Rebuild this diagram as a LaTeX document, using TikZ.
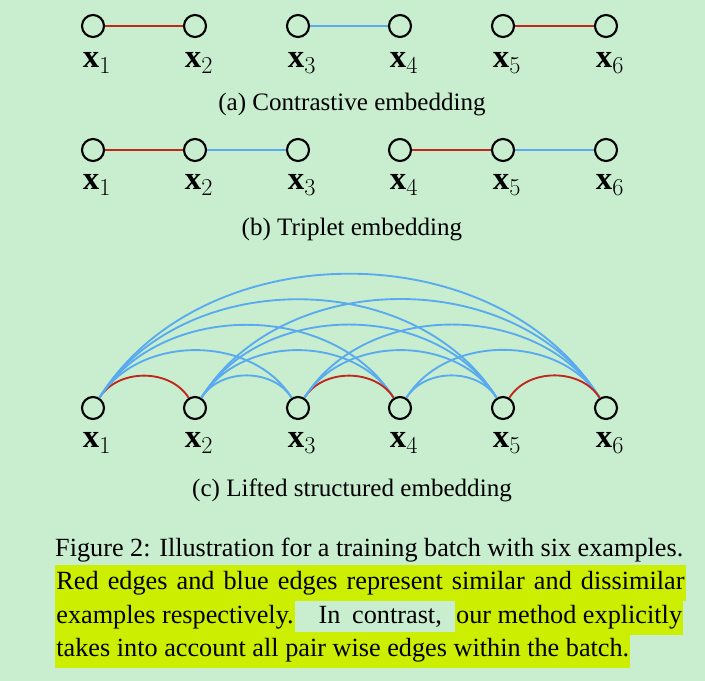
\documentclass[tikz,border=0pt]{standalone}
\usepackage{fontspec}
\setmainfont{Liberation Serif}
\usetikzlibrary{backgrounds}
\definecolor{bgcol}{HTML}{C8EECF}
\definecolor{simred}{HTML}{C0281E}
\definecolor{disblue}{HTML}{5AAAF0}
\definecolor{hlcol}{HTML}{CCEE00}
\tikzset{n/.style={circle, draw=black, line width=1.8pt, minimum size=0.66cm, inner sep=0},
  lab/.style={font=\fontsize{28}{32}\selectfont},
  subcap/.style={font=\fontsize{21.4}{26}\selectfont},
  txt/.style={font=\fontsize{22.4}{28}\selectfont, inner sep=0, anchor=west}}
\newcommand{\hlbox}[1]{{\setlength{\fboxsep}{1pt}\colorbox{hlcol}{\strut #1}}}
\newcommand{\capw}{18.84cm}

\begin{document}
\begin{tikzpicture}[x=0.03cm, y=-0.03cm]
    \fill[bgcol] (0,0) rectangle (705,681);
    \useasboundingbox (0,0) rectangle (705,681);
    \def\xs{{93,195,298,400,503,606}}
    % row (a) and row (b)
    \foreach \i in {1,...,6}
    {
      \pgfmathparse{\xs[\i-1]}
      \edef\v{\pgfmathresult}
      \node[n](A\i) at (\v, 26) {};
      \node[lab] at (\v+4, 63) {$\mathbf{x}_{\i}$};
      \node[n](B\i) at (\v, 150) {};
      \node[lab] at (\v+4, 185) {$\mathbf{x}_{\i}$};
      \node[n](C\i) at (\v, 408) {};
      \node[lab] at (\v+4, 443) {$\mathbf{x}_{\i}$};
    }
    \draw[simred, line width=1.6pt] (A1) -- (A2);
    \draw[disblue, line width=1.6pt] (A3) -- (A4);
    \draw[simred, line width=1.6pt] (A5) -- (A6);
    \draw[simred, line width=1.6pt] (B1) -- (B2);
    \draw[disblue, line width=1.6pt] (B2) -- (B3);
    \draw[simred, line width=1.6pt] (B4) -- (B5);
    \draw[disblue, line width=1.6pt] (B5) -- (B6);
    \node[subcap] (capa) at (352, 105) {(a) Contrastive embedding};
    \node[subcap] (capb) at (352, 230) {(b) Triplet embedding};
    % row (c): all pairs
    \foreach \i in {1,...,5}
    {
      \pgfmathparse{int(\i+1)}
      \edef\k{\pgfmathresult}
      \foreach \j in {\k,...,6}
      {
        \pgfmathparse{(\j==\i+1 && mod(\i,2)==1) ? "simred" : "disblue"}
        \edef\c{\pgfmathresult}
        \draw[\c, line width=1.6pt] (C\i) to[out=58, in=122] (C\j);
      }
    }
    \node[subcap] (capc) at (352, 490) {(c) Lifted structured embedding};
    % figure caption
    \node[txt] (l1) at (55, 550) {\makebox[\capw][s]{Figure 2: Illustration for a training batch with six examples.}};
    \node[txt] (l2) at (55, 583) {\hlbox{\makebox[\capw][s]{Red edges and blue edges represent similar and dissimilar}}};
    \node[txt] (l3) at (55, 617) {\makebox[\capw][s]{\hlbox{examples respectively.}\ \ In contrast, \hlbox{our method explicitly}}};
    \node[txt] (l4) at (55, 650) {\hlbox{takes into account all pair wise edges within the batch.}};
  \end{tikzpicture}
\end{document}
